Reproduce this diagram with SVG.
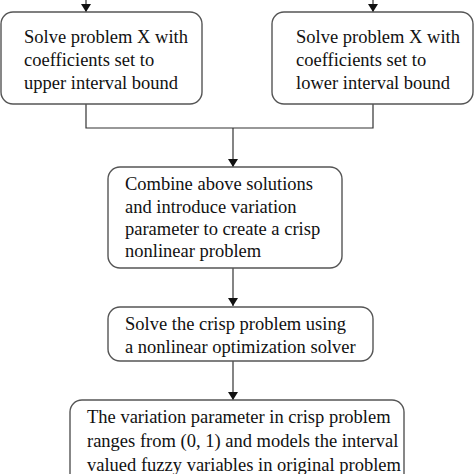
<svg xmlns="http://www.w3.org/2000/svg" width="474" height="474" viewBox="0 0 474 474">
<style>
.box{fill:#fff;stroke:#555;stroke-width:1.4}
.t{font-family:"Liberation Serif","Times New Roman",serif;font-size:18.5px;fill:#111}
.c{fill:none;stroke:#333;stroke-width:1.2}
</style>
<defs>
<marker id="ah" markerWidth="8" markerHeight="10" refX="8" refY="5" orient="auto" markerUnits="userSpaceOnUse">
<path d="M0,0 L8,5 L0,10 z" fill="#111"/>
</marker>
</defs>
<rect width="474" height="474" fill="#fff"/>
<g id="connectors">
<path class="c" d="M86,0 V12" marker-end="url(#ah)"/>
<path class="c" d="M373,0 V12" marker-end="url(#ah)"/>
<path class="c" d="M86,104 V128 H373 V104"/>
<path class="c" d="M233,128 V167" marker-end="url(#ah)"/>
<path class="c" d="M233,268 V306" marker-end="url(#ah)"/>
<path class="c" d="M233,361 V400" marker-end="url(#ah)"/>
</g>
<g id="n1">
<rect class="box" x="1" y="12" width="201" height="92" rx="12"/>
<text class="t" x="24" y="43">Solve problem X with</text>
<text class="t" x="24" y="66">coefficients set to</text>
<text class="t" x="24" y="89">upper interval bound</text>
</g>
<g id="n2">
<rect class="box" x="272" y="12" width="201" height="92" rx="12"/>
<text class="t" x="296" y="43">Solve problem X with</text>
<text class="t" x="296" y="66">coefficients set to</text>
<text class="t" x="296" y="89">lower interval bound</text>
</g>
<g id="n3">
<rect class="box" x="108" y="167" width="234" height="101" rx="12"/>
<text class="t" x="125" y="190">Combine above solutions</text>
<text class="t" x="125" y="213">and introduce variation</text>
<text class="t" x="125" y="235">parameter to create a crisp</text>
<text class="t" x="125" y="257">nonlinear problem</text>
</g>
<g id="n4">
<rect class="box" x="108" y="307" width="265" height="54" rx="12"/>
<text class="t" x="125" y="330">Solve the crisp problem using</text>
<text class="t" x="125" y="353">a nonlinear optimization solver</text>
</g>
<g id="n5">
<rect class="box" x="70" y="400" width="334" height="90" rx="12"/>
<text class="t" x="87" y="423">The variation parameter in crisp problem</text>
<text class="t" x="87" y="447">ranges from (0, 1) and models the interval</text>
<text class="t" x="87" y="471">valued fuzzy variables in original problem</text>
</g>
</svg>
